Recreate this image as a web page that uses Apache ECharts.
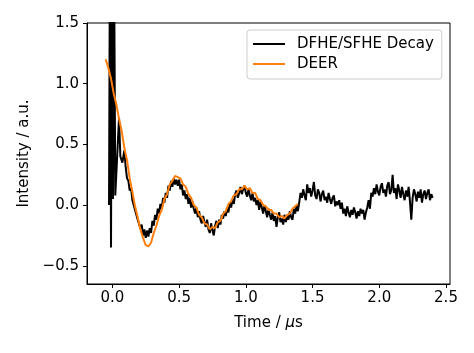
<!DOCTYPE html>
<html>
<head>
<meta charset="utf-8">
<script src="https://cdn.jsdelivr.net/npm/echarts@6/dist/echarts.min.js"></script>
<style>
  html, body { margin: 0; padding: 0; background: #fff; }
  #chart_div { width: 474px; height: 353px; }
</style>
</head>
<body>
<div id="chart_div"></div>
<script>
/*
 * 数据
 */
var xTicks = [0.0, 0.5, 1.0, 1.5, 2.0, 2.5];
var yTicks = [-0.5, 0.0, 0.5, 1.0, 1.5];

// DFHE/SFHE 开头的尖峰 [时间, 强度]
var decayHead = [
	[-0.025, 0.00], [-0.018, 2.20], [-0.010, -0.35], [-0.003, 2.20],
	[0.005, 0.05], [0.012, 2.20], [0.022, 0.08], [0.050, 0.72],
	[0.060, 0.40], [0.075, 0.35], [0.090, 0.45]
];
// 之后按固定步长采样 (0.10 ~ 2.40 us)
var decayStart = 0.10;
var decayStep = 0.01;
var decayValues = [
	0.31, 0.22, 0.20, 0.12, 0.14, 0.04, 0.05, -0.04, -0.03, -0.12,
	-0.11, -0.19, -0.16, -0.25, -0.20, -0.27, -0.21, -0.26, -0.19, -0.23,
	-0.13, -0.17, -0.08, -0.12, -0.03, -0.07, 0.01, -0.03, 0.06, 0.02,
	0.10, 0.06, 0.16, 0.12, 0.20, 0.15, 0.22, 0.17, 0.21, 0.16,
	0.21, 0.13, 0.17, 0.08, 0.12, 0.05, 0.09, 0.01, 0.06, -0.02,
	0.03, -0.03, -0.07, -0.02, -0.10, -0.05, -0.12, -0.15, -0.09, -0.14,
	-0.18, -0.12, -0.20, -0.23, -0.15, -0.21, -0.25, -0.17, -0.13, -0.19,
	-0.12, -0.16, -0.08, -0.11, -0.05, -0.09, -0.02, -0.06, 0.02, -0.02,
	0.05, 0.01, 0.09, 0.12, 0.06, 0.10, 0.15, 0.09, 0.13, 0.16,
	0.10, 0.07, 0.13, 0.08, 0.04, 0.10, 0.03, 0.06, 0.00, 0.04,
	-0.04, 0.03, -0.02, -0.07, 0.00, -0.05, -0.10, -0.03, -0.08, -0.12,
	-0.06, -0.13, -0.09, -0.18, -0.10, -0.06, -0.14, -0.11, -0.16, -0.08,
	-0.14, -0.09, -0.12, -0.05, -0.10, -0.12, -0.03, -0.07, 0.00, -0.05,
	0.02, 0.10, 0.06, 0.13, 0.08, 0.04, 0.17, 0.10, 0.14, 0.07,
	0.12, 0.19, 0.08, 0.05, 0.13, 0.10, 0.03, 0.09, 0.12, 0.04,
	0.07, 0.02, 0.10, 0.05, 0.01, 0.06, 0.08, -0.01, 0.03, 0.00,
	0.04, -0.03, 0.02, -0.07, -0.03, -0.09, -0.01, -0.06, -0.10, -0.04,
	-0.08, -0.02, -0.06, -0.11, -0.05, -0.09, -0.03, -0.07, -0.04, -0.12,
	-0.06, -0.02, 0.04, -0.03, 0.10, 0.07, 0.14, 0.09, 0.17, 0.11,
	0.08, 0.15, 0.18, 0.10, 0.13, 0.07, 0.16, 0.19, 0.09, 0.12,
	0.25, 0.10, 0.14, 0.05, 0.17, 0.12, 0.06, 0.15, 0.09, 0.04,
	0.12, 0.07, 0.15, 0.03, -0.12, 0.06, 0.13, 0.09, 0.03, 0.11,
	0.06, 0.13, 0.02, 0.09, 0.12, 0.05, 0.10, 0.13, 0.04, 0.09, 0.06
];

// DEER
var deerStart = -0.05;
var deerStep = 0.02;
var deerValues = [
	1.20, 1.13, 1.04, 0.92, 0.83, 0.71, 0.61, 0.47, 0.37, 0.22,
	0.11, -0.01, -0.10, -0.20, -0.27, -0.33, -0.34, -0.31, -0.23, -0.17,
	-0.09, -0.04, 0.05, 0.09, 0.17, 0.20, 0.24, 0.23, 0.22, 0.17,
	0.15, 0.09, 0.06, 0.00, -0.02, -0.08, -0.10, -0.15, -0.16, -0.20,
	-0.18, -0.19, -0.14, -0.13, -0.07, -0.05, 0.01, 0.03, 0.08, 0.09,
	0.13, 0.13, 0.16, 0.13, 0.14, 0.10, 0.10, 0.05, 0.04, 0.00,
	-0.01, -0.04, -0.04, -0.07, -0.07, -0.10, -0.09, -0.11, -0.08, -0.07,
	-0.03, -0.01, 0.01
];

/*
 * 拼成 [x, y]
 */
var decayData = decayHead.slice();
for (var i = 0; i < decayValues.length; i++) {
	decayData.push([decayStart + i * decayStep, decayValues[i]]);
}
var deerData = [];
for (var j = 0; j < deerValues.length; j++) {
	deerData.push([deerStart + j * deerStep, deerValues[j]]);
}

function fmt(v) {
	var s = Math.abs(v).toFixed(1);
	return v < 0 ? '\u2212' + s : s;
}

var font = 'DejaVu Sans';
var chart = echarts.init(document.getElementById('chart_div'), null, { renderer: 'canvas' });
var option = {
	animation: false,
	backgroundColor: '#ffffff',
	grid: {
		left: 87,
		right: 24,
		top: 23,
		bottom: 69,
		show: true,
		borderColor: '#000',
		borderWidth: 1,
		containLabel: false
	},
	legend: {
		orient: 'vertical',
		left: 247,
		top: 30,
		padding: [4, 8, 5, 6],
		itemWidth: 32,
		itemHeight: 2,
		itemGap: 0,
		icon: 'rect',
		backgroundColor: 'rgba(255,255,255,0.8)',
		borderColor: '#cccccc',
		borderWidth: 1,
		borderRadius: 3,
		textStyle: {
			fontFamily: font,
			fontSize: 15,
			color: '#000',
			lineHeight: 20,
			padding: [0, 0, 0, 7]
		},
		data: ['DFHE/SFHE Decay', 'DEER']
	},
	xAxis: {
		type: 'value',
		min: -0.19,
		max: 2.53,
		name: 'Time / {i|\u03bc}s',
		nameLocation: 'middle',
		nameGap: 32,
		nameTextStyle: {
			fontFamily: font,
			fontSize: 15,
			color: '#000',
			rich: { i: { fontFamily: font, fontSize: 15, fontStyle: 'italic', color: '#000' } }
		},
		splitLine: { show: false },
		axisLine: { show: true, onZero: false, lineStyle: { color: '#000', width: 1 } },
		axisTick: { show: true, length: 4, inside: false, lineStyle: { color: '#000' }, customValues: xTicks },
		axisLabel: {
			fontFamily: font, fontSize: 15, color: '#000', margin: 7,
			customValues: xTicks,
			formatter: fmt
		}
	},
	yAxis: {
		type: 'value',
		min: -0.65,
		max: 1.5,
		name: 'Intensity / a.u.',
		nameLocation: 'middle',
		nameGap: 55,
		nameTextStyle: { fontFamily: font, fontSize: 15, color: '#000' },
		splitLine: { show: false },
		axisLine: { show: true, onZero: false, lineStyle: { color: '#000', width: 1 } },
		axisTick: { show: true, length: 4, inside: false, lineStyle: { color: '#000' }, customValues: yTicks },
		axisLabel: {
			fontFamily: font, fontSize: 15, color: '#000', margin: 8,
			customValues: yTicks,
			formatter: fmt
		}
	},
	series: [{
		name: 'DFHE/SFHE Decay',
		type: 'line',
		data: decayData,
		symbol: 'none',
		clip: true,
		color: '#000000',
		lineStyle: { color: '#000000', width: 2 }
	}, {
		name: 'DEER',
		type: 'line',
		data: deerData,
		symbol: 'none',
		clip: true,
		color: '#ff7f0e',
		lineStyle: { color: '#ff7f0e', width: 2 }
	}]
};
chart.setOption(option, true);
</script>
</body>
</html>
